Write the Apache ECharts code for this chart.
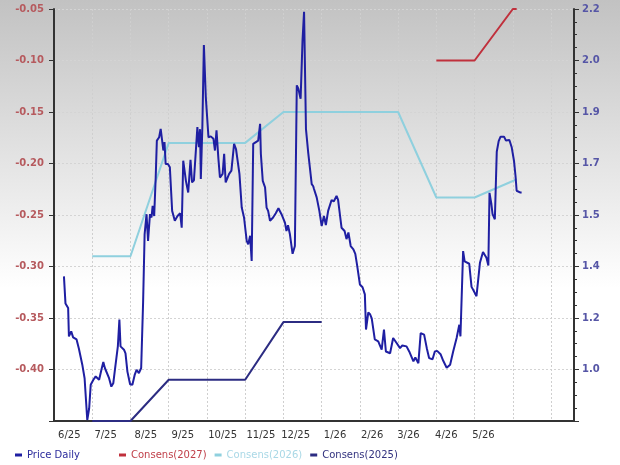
<!DOCTYPE html>
<html lang="en">
<head>
    <meta http-equiv="Content-Type" content="text/html;charset=utf-8">
    <script type="text/javascript" src="https://cdn.jsdelivr.net/npm/echarts@6/dist/echarts.min.js"></script>
    <title>Price and Consensus</title>
    <style>
        html, body { margin: 0; padding: 0; background: #fff; }
        #main { width: 620px; height: 465px; }
    </style>
</head>
<body>
<div id="main"></div>
<script>
    // x runs in months (grid line per month), labels sit where the source put them
    var monthLabels = ['6/25', '7/25', '8/25', '9/25', '10/25', '11/25', '12/25', '1/26', '2/26', '3/26', '4/26', '5/26'];
    var monthLabelPos = [0.40, 1.35, 2.40, 3.37, 4.41, 5.41, 6.32, 7.35, 8.32, 9.27, 10.26, 11.23];
    var priceTickLabels = ['', '1.0', '1.2', '1.4', '1.5', '1.7', '1.9', '2.0', '2.2'];

    var cons2027 = [[10, -0.10], [11, -0.10], [12, -0.05], [12.1, -0.05]];
    var cons2026 = [[1, -0.29], [2, -0.29], [3, -0.18], [4, -0.18], [5, -0.18], [6, -0.15], [7, -0.15],
        [8, -0.15], [9, -0.15], [10, -0.233], [11, -0.233], [12, -0.217], [12.1, -0.215]];
    var cons2025 = [[1, -0.45], [2, -0.45], [3, -0.41], [4, -0.41], [5, -0.41], [6, -0.354], [7, -0.354]];

    var priceDaily = [
        [0.26, 1.31], [0.30, 1.22], [0.37, 1.205], [0.39, 1.11], [0.45, 1.127], [0.50, 1.107], [0.55, 1.11],
        [0.59, 1.10], [0.65, 1.07], [0.74, 1.016], [0.80, 0.971], [0.87, 0.832], [0.92, 0.871], [0.96, 0.949],
        [1.03, 0.966], [1.09, 0.977], [1.18, 0.966], [1.24, 0.999], [1.29, 1.025], [1.33, 1.005], [1.38, 1.001],
        [1.44, 0.971], [1.50, 0.943], [1.55, 0.954], [1.61, 1.016], [1.67, 1.077], [1.71, 1.166], [1.74, 1.077],
        [1.83, 1.066], [1.87, 1.054], [1.92, 0.993], [1.99, 0.951], [2.05, 0.949], [2.11, 0.982], [2.16, 0.999],
        [2.22, 0.988], [2.28, 1.005], [2.33, 1.222], [2.37, 1.45], [2.42, 1.517], [2.46, 1.428], [2.51, 1.517],
        [2.55, 1.506], [2.58, 1.545], [2.62, 1.511], [2.66, 1.639], [2.69, 1.762], [2.75, 1.773], [2.79, 1.801],
        [2.83, 1.807], [2.86, 1.729], [2.89, 1.757], [2.92, 1.684], [2.98, 1.684], [3.03, 1.673], [3.09, 1.528],
        [3.16, 1.495], [3.23, 1.511], [3.30, 1.52], [3.34, 1.472], [3.38, 1.695], [3.45, 1.628], [3.51, 1.589],
        [3.57, 1.698], [3.61, 1.623], [3.66, 1.63], [3.71, 1.625], [3.75, 1.807], [3.79, 1.74], [3.82, 1.80],
        [3.84, 1.634], [3.88, 1.807], [3.92, 2.08], [3.97, 1.907], [4.04, 1.773], [4.10, 1.776], [4.17, 1.768],
        [4.21, 1.729], [4.25, 1.796], [4.30, 1.701], [4.34, 1.639], [4.41, 1.651], [4.45, 1.718], [4.49, 1.623],
        [4.58, 1.651], [4.64, 1.662], [4.71, 1.751], [4.76, 1.734], [4.85, 1.651], [4.91, 1.539], [4.97, 1.506],
        [5.04, 1.428], [5.08, 1.417], [5.13, 1.445], [5.17, 1.361], [5.21, 1.751], [5.28, 1.757], [5.34, 1.762],
        [5.39, 1.818], [5.41, 1.718], [5.46, 1.628], [5.52, 1.606], [5.56, 1.539], [5.60, 1.528], [5.65, 1.495],
        [5.73, 1.506], [5.80, 1.52], [5.87, 1.537], [5.95, 1.517], [6.04, 1.489], [6.08, 1.461], [6.12, 1.48],
        [6.17, 1.45], [6.24, 1.385], [6.30, 1.411], [6.35, 1.946], [6.39, 1.935], [6.45, 1.901], [6.50, 2.096],
        [6.54, 2.191], [6.59, 1.80], [6.65, 1.72], [6.74, 1.617], [6.78, 1.61], [6.80, 1.601], [6.87, 1.573],
        [6.94, 1.528], [7.00, 1.478], [7.06, 1.511], [7.11, 1.481], [7.17, 1.528], [7.26, 1.564], [7.32, 1.56],
        [7.39, 1.578], [7.43, 1.565], [7.52, 1.472], [7.60, 1.461], [7.65, 1.434], [7.70, 1.456], [7.76, 1.411],
        [7.83, 1.40], [7.88, 1.385], [7.93, 1.345], [8.00, 1.283], [8.07, 1.274], [8.13, 1.25], [8.16, 1.133],
        [8.22, 1.19], [8.27, 1.183], [8.31, 1.17], [8.39, 1.10], [8.48, 1.094], [8.52, 1.09], [8.57, 1.066],
        [8.63, 1.133], [8.68, 1.06], [8.79, 1.054], [8.87, 1.105], [8.96, 1.088], [9.05, 1.071], [9.11, 1.08],
        [9.22, 1.077], [9.29, 1.06], [9.40, 1.027], [9.45, 1.04], [9.53, 1.021], [9.59, 1.121], [9.68, 1.116],
        [9.75, 1.071], [9.81, 1.038], [9.90, 1.034], [9.96, 1.06], [10.02, 1.062], [10.11, 1.051], [10.18, 1.029],
        [10.27, 1.006], [10.31, 1.004], [10.36, 1.016], [10.44, 1.06], [10.53, 1.105], [10.60, 1.149], [10.63, 1.11],
        [10.70, 1.394], [10.74, 1.36], [10.86, 1.352], [10.92, 1.275], [10.98, 1.261], [11.05, 1.244], [11.14, 1.355],
        [11.22, 1.391], [11.31, 1.372], [11.36, 1.346], [11.39, 1.588], [11.44, 1.55], [11.47, 1.517], [11.53, 1.50],
        [11.58, 1.725], [11.63, 1.76], [11.68, 1.775], [11.77, 1.775], [11.82, 1.762], [11.91, 1.764], [11.97, 1.74],
        [12.03, 1.695], [12.07, 1.645], [12.10, 1.595], [12.14, 1.595], [12.20, 1.589], [12.23, 1.589]
    ];

    // right axis ticks line up with the left ones: -0.40 <-> 1.0, -0.05 <-> 2.2
    var rStep = 1.2 / 7;
    var rMin = 1.0 - rStep;
    var font = 'DejaVu Sans';

    var myChart = echarts.init(document.getElementById('main'), null, {renderer: 'canvas'});

    var option = {
        animation: false,
        backgroundColor: {
            type: 'linear', x: 0, y: 0, x2: 0, y2: 1,
            colorStops: [
                {offset: 0, color: '#c2c2c2'},
                {offset: 0.5, color: '#f3f3f3'},
                {offset: 0.62, color: '#ffffff'},
                {offset: 1, color: '#ffffff'}
            ]
        },
        grid: {left: 54, right: 46, top: 9, bottom: 44},
        legend: [{
            left: 10,
            top: 445,
            icon: 'rect',
            itemWidth: 7,
            itemHeight: 3,
            textStyle: {fontFamily: font, fontSize: 10},
            data: [{name: 'Price Daily', textStyle: {color: '#2b2b9c'}}]
        }, {
            left: 114,
            top: 445,
            icon: 'rect',
            itemWidth: 7,
            itemHeight: 3,
            itemGap: 8,
            textStyle: {fontFamily: font, fontSize: 10},
            data: [
                {name: 'Consens(2027)', textStyle: {color: '#c0404a'}},
                {name: 'Consens(2026)', textStyle: {color: '#a9d8e6'}},
                {name: 'Consens(2025)', textStyle: {color: '#33337f'}}
            ]
        }],
        xAxis: {
            type: 'value',
            min: 0,
            max: 13.6,
            interval: 1,
            axisLine: {show: true, onZero: false, lineStyle: {color: '#333', width: 2}},
            axisTick: {show: false},
            splitLine: {show: true, lineStyle: {color: '#cfcfcf', type: [2, 2], width: 1}},
            axisLabel: {
                customValues: monthLabelPos,
                margin: 9,
                color: '#333',
                fontFamily: font,
                fontSize: 10,
                formatter: function (v) {
                    var best = 0;
                    for (var i = 1; i < monthLabelPos.length; i++) {
                        if (Math.abs(monthLabelPos[i] - v) < Math.abs(monthLabelPos[best] - v)) best = i;
                    }
                    return monthLabels[best];
                }
            }
        },
        yAxis: [{
            type: 'value',
            position: 'left',
            min: -0.45,
            max: -0.05,
            interval: 0.05,
            axisLine: {show: true, lineStyle: {color: '#333', width: 2}},
            axisTick: {show: true, length: 5, lineStyle: {color: '#333'}},
            splitLine: {show: true, lineStyle: {color: '#d4d4d4', type: [2, 2], width: 1}},
            axisLabel: {
                margin: 10,
                color: '#b65a5e',
                fontFamily: font,
                fontSize: 10,
                fontWeight: 'bold',
                formatter: function (v) {
                    return v < -0.449 ? '' : v.toFixed(2);
                }
            }
        }, {
            type: 'value',
            position: 'right',
            min: rMin,
            max: 2.2,
            interval: rStep,
            axisLine: {show: true, lineStyle: {color: '#333', width: 2}},
            axisTick: {show: true, length: 5, lineStyle: {color: '#333'}},
            minorTick: {show: true, splitNumber: 4, length: 3, lineStyle: {color: '#333'}},
            splitLine: {show: false},
            axisLabel: {
                margin: 8,
                color: '#5656a6',
                fontFamily: font,
                fontSize: 10,
                fontWeight: 'bold',
                formatter: function (v) {
                    return priceTickLabels[Math.round((v - rMin) / rStep)] || '';
                }
            }
        }],
        series: [{
            name: 'Consens(2026)',
            type: 'line',
            yAxisIndex: 0,
            symbol: 'none',
            lineStyle: {color: '#8fd0de', width: 2},
            itemStyle: {color: '#8fd0de'},
            data: cons2026
        }, {
            name: 'Consens(2025)',
            type: 'line',
            yAxisIndex: 0,
            symbol: 'none',
            clip: false,
            lineStyle: {color: '#2c2c82', width: 2},
            itemStyle: {color: '#2c2c82'},
            data: cons2025
        }, {
            name: 'Consens(2027)',
            type: 'line',
            yAxisIndex: 0,
            symbol: 'none',
            clip: false,
            lineStyle: {color: '#c0303c', width: 2},
            itemStyle: {color: '#c0303c'},
            data: cons2027
        }, {
            name: 'Price Daily',
            type: 'line',
            yAxisIndex: 1,
            symbol: 'none',
            lineStyle: {color: '#1f1fa2', width: 2},
            itemStyle: {color: '#1f1fa2'},
            data: priceDaily
        }]
    };
    myChart.setOption(option);
</script>
</body>
</html>
